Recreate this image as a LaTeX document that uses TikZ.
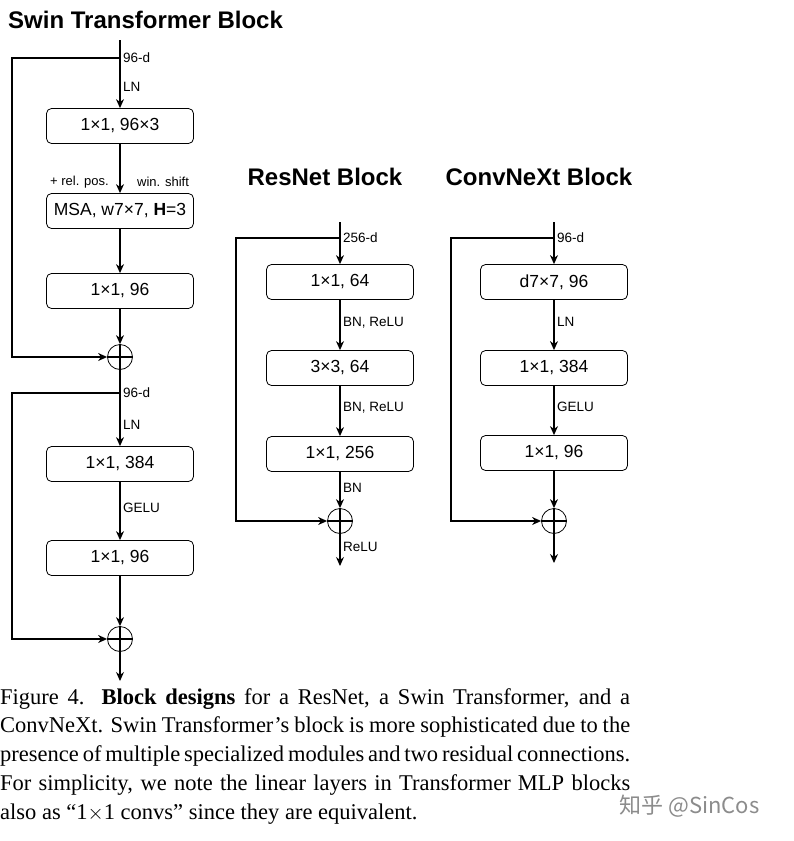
\documentclass[tikz,border=0pt]{standalone}
\usepackage{fontspec}
\setmainfont{Liberation Serif}
\setsansfont{Liberation Sans}
\newfontfamily\cjk{Noto Sans CJK SC}
\usetikzlibrary{positioning,arrows.meta}

\begin{document}
\begin{tikzpicture}[x=1pt,y=-1pt,font=\sffamily,
    block/.style={draw,rounded corners=5pt,minimum width=147pt,minimum height=35pt,font=\sffamily\fontsize{17.5}{20}\selectfont,line width=0.8pt},
    add/.style={draw,circle,minimum size=25pt,inner sep=0pt,line width=0.8pt},
    lab/.style={font=\sffamily\fontsize{13.5}{16}\selectfont,anchor=west,inner sep=3pt},
    title/.style={font=\sffamily\bfseries\fontsize{24}{28}\selectfont},
    flow/.style={-{Stealth[length=9pt,width=8pt]},line width=1.1pt}]
    \useasboundingbox (0,0) rectangle (793,841);
    % Swin Transformer block
    \node[title,anchor=west,inner sep=0pt] (tswin) at (8,20) {Swin Transformer Block};
    \coordinate (s0) at (120,40);
    \coordinate (sb) at (120,58);
    \node[block] (s1) at (120,126) {1×1, 96×3};
    \node[block] (s2) at (120,211) {MSA, w7×7, \textbf{H}=3};
    \node[block] (s3) at (120,291) {1×1, 96};
    \node[add] (sp1) at (120,357) {};
    \coordinate (sc) at (120,393);
    \node[block] (s4) at (120,464) {1×1, 384};
    \node[block] (s5) at (120,558) {1×1, 96};
    \node[add] (sp2) at (120,639) {};
    \coordinate (se) at (120,681);
    \draw[flow] (s0) -- (s1.north);
    \draw[flow] (s1) -- (s2);
    \draw[flow] (s2) -- (s3);
    \draw[flow] (s3) -- (sp1);
    \draw[flow] (sp1) -- (s4);
    \draw[flow] (s4) -- (s5);
    \draw[flow] (s5) -- (sp2);
    \draw[flow] (sp2) -- (se);
    \draw[flow] (sb) -| (12,357) -- (sp1.west);
    \draw[flow] (sc) -| (12,639) -- (sp2.west);
    \node[lab] at (sb) {96-d};
    \node[lab] at (120,87) {LN};
    \node[lab,anchor=east,font=\sffamily\fontsize{13}{15}\selectfont] at (112,182) {+ rel. pos.};
    \node[lab,font=\sffamily\fontsize{13}{15}\selectfont] at (134,182) {win. shift};
    \node[lab] at (sc) {96-d};
    \node[lab] at (120,425) {LN};
    \node[lab] at (120,508) {GELU};
    % ResNet block
    \node[title] (tres) at (325,177) {ResNet Block};
    \coordinate (r0) at (340,222);
    \coordinate (rb) at (340,238);
    \node[block] (r1) at (340,282) {1×1, 64};
    \node[block] (r2) at (340,368) {3×3, 64};
    \node[block] (r3) at (340,454) {1×1, 256};
    \node[add] (rp) at (340,521) {};
    \coordinate (re) at (340,566);
    \draw[flow] (r0) -- (r1.north);
    \draw[flow] (r1) -- (r2);
    \draw[flow] (r2) -- (r3);
    \draw[flow] (r3) -- (rp);
    \draw[flow] (rp) -- (re);
    \draw[flow] (rb) -| (236,521) -- (rp.west);
    \node[lab] at (rb) {256-d};
    \node[lab] at (340,323) {BN, ReLU};
    \node[lab] at (340,408) {BN, ReLU};
    \node[lab] at (340,488) {BN};
    \node[lab] at (340,547) {ReLU};
    % ConvNeXt block
    \node[title] (tcnx) at (539,177) {ConvNeXt Block};
    \coordinate (c0) at (554,222);
    \coordinate (cb) at (554,238);
    \node[block] (c1) at (554,282) {d7×7, 96};
    \node[block] (c2) at (554,368) {1×1, 384};
    \node[block] (c3) at (554,453) {1×1, 96};
    \node[add] (cp) at (554,521) {};
    \coordinate (ce) at (554,563);
    \draw[flow] (c0) -- (c1.north);
    \draw[flow] (c1) -- (c2);
    \draw[flow] (c2) -- (c3);
    \draw[flow] (c3) -- (cp);
    \draw[flow] (cp) -- (ce);
    \draw[flow] (cb) -| (451,521) -- (cp.west);
    \node[lab] at (cb) {96-d};
    \node[lab] at (554,322) {LN};
    \node[lab] at (554,407) {GELU};
    % plus signs
    \foreach \p in {sp1,sp2,rp,cp}
      \draw[line width=1.4pt] (\p.north) -- (\p.south) (\p.west) -- (\p.east);
    % caption
    \node[anchor=north west,text width=630pt,align=justify,inner sep=0pt,
      font=\rmfamily\fontsize{22.5}{28.8}\selectfont] (cap) at (0,688)
      {Figure 4. \textbf{Block designs} for a ResNet, a Swin Transformer, and a \mbox{ConvNeXt}. Swin Transformer's block is more sophisticated due to the presence of multiple specialized modules and two residual con\-nections. For simplicity, we note the linear layers in Transformer MLP blocks also as ``1$\times$1 convs'' since they are equivalent.};
    \node[anchor=west,text=black!45,font=\cjk\fontsize{22}{26}\selectfont,fill=white,fill opacity=0.7,text opacity=1] (wm) at (616,806) {知乎 @SinCos};
\end{tikzpicture}
\end{document}
